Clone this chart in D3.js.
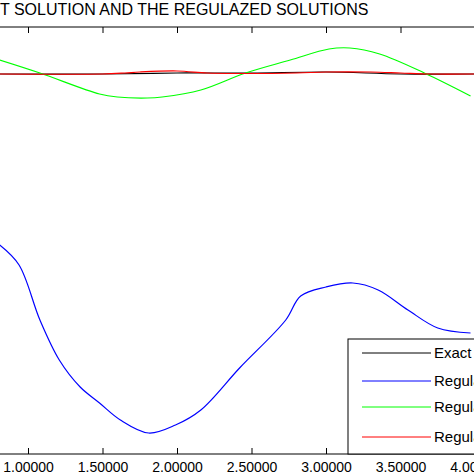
<!DOCTYPE html>
<html><head><meta charset="utf-8">
<script src="https://cdn.jsdelivr.net/npm/d3@7"></script>
<style>body{margin:0;background:#fff}svg{display:block}</style>
</head><body>
<svg id="chart" width="474" height="474"></svg>
<script>
const xTicks = [1, 1.5, 2, 2.5, 3, 3.5, 4];
const exactX = [0.8, 1.5, 2.0, 2.5, 3.0, 3.5, 4.0];
const exactY = [0, 0, 0.01, 0.01, 0.02, 0, 0];
const blueX = [0.81, 0.94, 1.08, 1.21, 1.35, 1.48, 1.62, 1.81, 1.99, 2.16, 2.42, 2.73, 2.83, 3.0, 3.18, 3.35, 3.55, 3.75, 3.97];
const blueY = [-1.71, -1.91, -2.46, -2.86, -3.13, -3.29, -3.46, -3.59, -3.51, -3.36, -2.94, -2.46, -2.22, -2.13, -2.09, -2.16, -2.36, -2.54, -2.59];
const greenX = [0.81, 1.08, 1.48, 1.6, 1.8, 1.9, 2.16, 2.46, 2.76, 3.02, 3.16, 3.36, 3.66, 3.97];
const greenY = [0.14, 0.01, -0.2, -0.23, -0.24, -0.23, -0.16, 0.01, 0.14, 0.25, 0.26, 0.2, 0.01, -0.22];
const redX = [0.8, 1.5, 1.65, 1.75, 2.0, 2.2, 2.4, 2.8, 3.0, 3.3, 3.5, 3.7, 4.0];
const redY = [0, 0, 0.01, 0.02, 0.03, 0.01, 0.005, 0.01, 0.02, 0.02, 0.01, 0, 0];
const legendLabels = ['Exact solution', 'Regularized solution 1', 'Regularized solution 2', 'Regularized solution 3'];
const legendColors = ['#000000', '#0000ff', '#00ff00', '#ff0000'];

const svg = d3.select('#chart');
const x = d3.scaleLinear().domain([1, 4]).range([28, 475]);
const y = d3.scaleLinear().domain([0.47, -3.8]).range([27, 454]);
const font = 'Liberation Sans, Arial, sans-serif';

// title (cut by the window)
svg.append('text').attr('x', -80).attr('y', 15)
  .attr('font-family', font).attr('font-size', 16).attr('fill', '#000')
  .text('THE EXACT SOLUTION AND THE REGULAZED SOLUTIONS');

// frame lines
svg.append('line').attr('x1', -10).attr('x2', 484).attr('y1', 27).attr('y2', 27).attr('stroke', '#000');
svg.append('line').attr('x1', -10).attr('x2', 484).attr('y1', 454).attr('y2', 454).attr('stroke', '#000');

// ticks
const axisB = d3.axisBottom(x).tickValues(xTicks).tickSize(-6).tickPadding(8).tickFormat(d3.format('g'));
const ga = svg.append('g').attr('transform', 'translate(0,454)').call(axisB);
ga.select('.domain').remove();
ga.selectAll('text').attr('font-family', font).attr('font-size', 14).attr('fill', '#000');
const axisT = d3.axisTop(x).tickValues(xTicks).tickSize(-6).tickFormat('');
const gt = svg.append('g').attr('transform', 'translate(0,27)').call(axisT);
gt.select('.domain').remove();

const line = d3.line().x(d => x(d[0])).y(d => y(d[1])).curve(d3.curveCatmullRom);
const series = [[exactX, exactY, '#000000'], [blueX, blueY, '#0000ff'], [greenX, greenY, '#00ff00'], [redX, redY, '#ff0000']];
series.forEach(([xs, ys, c]) => {
  svg.append('path').datum(d3.zip(xs, ys))
    .attr('d', line).attr('fill', 'none').attr('stroke', c).attr('stroke-width', 1.2);
});

// legend
const lg = svg.append('g');
lg.append('rect').attr('x', 348).attr('y', 339).attr('width', 200).attr('height', 115)
  .attr('fill', '#fff').attr('stroke', '#000');
const rows = [353, 381, 407, 437];
legendLabels.forEach((t, i) => {
  lg.append('line').attr('x1', 362).attr('x2', 431).attr('y1', rows[i]).attr('y2', rows[i]).attr('stroke', legendColors[i]);
  lg.append('text').attr('x', 434).attr('y', rows[i] + 5).attr('font-family', font).attr('font-size', 15).text(t);
});
</script>
</body></html>
